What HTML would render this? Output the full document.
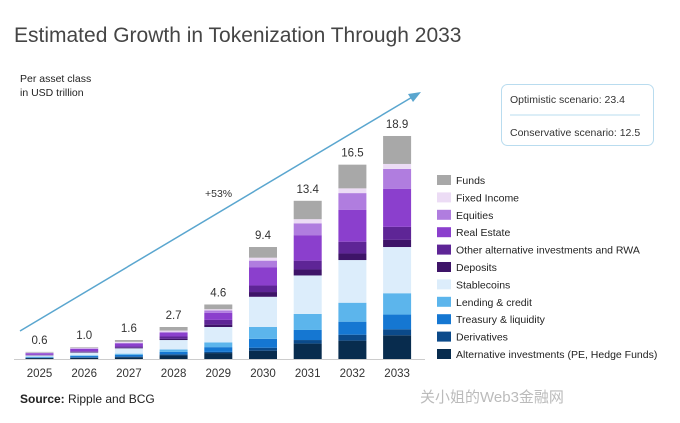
<!DOCTYPE html>
<html><head><meta charset="utf-8"><style>
body{margin:0;background:#fff;font-family:"Liberation Sans","Noto Sans CJK SC",sans-serif;}
svg text{font-family:"Liberation Sans","Noto Sans CJK SC",sans-serif;}
</style></head><body>
<svg id="c" width="680" height="418" viewBox="0 0 680 418">
<text x="14" y="42" font-size="21" fill="#454545">Estimated Growth in Tokenization Through 2033</text>
<text x="20" y="82" font-size="10.5" fill="#222">Per asset class</text>
<text x="20" y="96" font-size="10.5" fill="#222">in USD trillion</text>
<g>
<line x1="20" y1="331" x2="414" y2="96" stroke="#5aa6cf" stroke-width="1.5"/>
<polygon points="421,92 408,94 413,102" fill="#5aa6cf"/>
</g>
<text x="205" y="197" font-size="10.5" fill="#333">+53%</text>
<g>
<rect x="501.5" y="84.5" width="152" height="61" rx="6" fill="#fff" stroke="#b9dcef"/>
<line x1="510" y1="115" x2="640" y2="115" stroke="#b9dcef"/>
<text x="510" y="103" font-size="10.5" fill="#333">Optimistic scenario: 23.4</text>
<text x="510" y="136" font-size="10.5" fill="#333">Conservative scenario: 12.5</text>
</g>
<line x1="14" y1="359.5" x2="425" y2="359.5" stroke="#ccc"/>
<g id="bars"></g>
<g id="legend"></g>
<text x="20" y="403" font-size="12" fill="#222"><tspan font-weight="bold">Source:</tspan> Ripple and BCG</text>
<text x="420" y="402" font-size="15" fill="#bbb">关小姐的Web3金融网</text>
</svg>
<script>
const years=["2025","2026","2027","2028","2029","2030","2031","2032","2033"];
const totals=["0.6","1.0","1.6","2.7","4.6","9.4","13.4","16.5","18.9"];
const seriesNames=["Alternative investments (PE, Hedge Funds)","Derivatives","Treasury & liquidity","Lending & credit","Stablecoins","Deposits","Other alternative investments and RWA","Real Estate","Equities","Fixed Income","Funds"];
const altInv=[0.08,0.1,0.15,0.3,0.5,0.7,1.3,1.55,2.0];
const derivatives=[0.02,0.05,0.05,0.1,0.1,0.25,0.3,0.5,0.5];
const treasury=[0.05,0.1,0.15,0.2,0.4,0.75,0.85,1.1,1.25];
const lending=[0.05,0.05,0.1,0.2,0.4,1.0,1.35,1.6,1.8];
const stablecoins=[0.1,0.25,0.45,0.8,1.3,2.55,3.25,3.6,3.9];
const deposits=[0.02,0.05,0.05,0.1,0.2,0.4,0.5,0.55,0.6];
const otherAlt=[0.03,0.05,0.1,0.2,0.4,0.55,0.75,1.0,1.1];
const realEstate=[0.12,0.2,0.25,0.3,0.6,1.55,2.15,2.7,3.2];
const equities=[0.05,0.05,0.05,0.1,0.2,0.55,1.0,1.4,1.69];
const fixedIncome=[0.03,0.05,0.1,0.1,0.1,0.25,0.35,0.4,0.42];
const funds=[0.05,0.05,0.15,0.3,0.4,0.9,1.55,2.0,2.36];
const series=[altInv,derivatives,treasury,lending,stablecoins,deposits,otherAlt,realEstate,equities,fixedIncome,funds];
const colors=["#082c4e","#0b4a8a","#1577d2","#5cb5ec","#dcedfb","#3e1468","#5e2596","#8b3fcd","#b07ddf","#ecdcf5","#a8a8a8"];
const NS="http://www.w3.org/2000/svg";
const base=359, ppu=11.85, x0=39.5, step=44.7, bw=28;
const yS=v=>v*ppu, xS=i=>x0+i*step;
function mk(t,a){const e=document.createElementNS(NS,t);for(const k in a)e.setAttribute(k,a[k]);return e;}
const bars=document.getElementById('bars');
years.forEach((yr,i)=>{
  let y=base;
  series.forEach((s,j)=>{
    const h=yS(s[i]);y-=h;
    const r=mk('rect',{x:xS(i)-bw/2,y:y,width:bw,height:h,fill:colors[j]});
    
    
    bars.appendChild(r);
  });
  const t=mk('text',{x:xS(i),y:y-8,'font-size':11.5,fill:'#333','text-anchor':'middle'});
  t.textContent=totals[i];
  
  
  bars.appendChild(t);
  const l=mk('text',{x:xS(i),y:377,'font-size':11.5,fill:'#333','text-anchor':'middle'});
  l.textContent=yr;
  
  
  bars.appendChild(l);
});
const lg=document.getElementById('legend');
for(let k=0;k<11;k++){
  const j=10-k, y=180+k*17.4;
  const g=mk('g',{});
  
  
  g.appendChild(mk('rect',{x:437,y:y-5,width:14,height:10,fill:colors[j]}));
  const t=mk('text',{x:456,y:y+4,'font-size':10.5,fill:'#222'});
  t.textContent=seriesNames[j];
  g.appendChild(t);
  lg.appendChild(g);
}
</script>
</body></html>
